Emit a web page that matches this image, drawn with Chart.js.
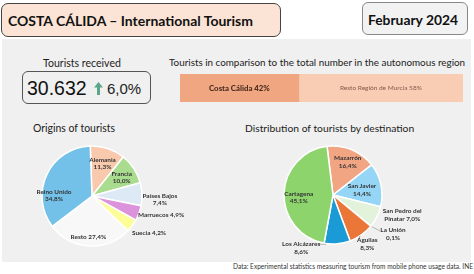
<!DOCTYPE html>
<html>
<head>
<meta charset="utf-8">
<script src="https://cdn.jsdelivr.net/npm/chart.js@4"></script>
<style>
  body { margin: 0; width: 474px; height: 274px; background: #fff; position: relative; overflow: hidden; font-family: Lato, sans-serif; color: #222; }
  .abs { position: absolute; white-space: nowrap; }
  .txt { position: absolute; white-space: nowrap; line-height: 1.2; transform: translateY(-50%); }
  #panel { left: 2px; top: 39px; width: 469px; height: 223px; background: #f0f0f0; }
  #title { left: 1px; top: 3px; width: 278px; height: 32px; background: #fbe4d6; border: 1.5px solid #444; border-radius: 7px; }
  #month { left: 362px; top: 2px; width: 104px; height: 31px; background: #f2f2f2; border: 1.5px solid #888; border-radius: 6px; }
  #kpi { left: 22px; top: 71px; width: 127px; height: 31px; border: 1.3px solid #555; border-radius: 6px; background: #f0f0f0; }
  #kpiNum { left: 4px; top: 5px; font-family: "Liberation Sans", Arial, sans-serif; font-size: 19.5px; color: #111; }
  #kpiArrow { left: 71px; top: 10px; }
  #kpiPct { left: 84px; top: 8px; font-family: "Liberation Sans", Arial, sans-serif; font-size: 15px; color: #222; }
  #barBox { left: 180px; top: 74px; width: 283px; height: 28px; }
  #pie1Box { left: 0px; top: 130px; width: 236px; height: 130px; }
  #pie2Box { left: 238px; top: 130px; width: 236px; height: 130px; }
</style>
</head>
<body>
<div id="panel" class="abs"></div>
<div id="title" class="abs"></div>
<div id="month" class="abs"></div>
<div class="txt fit" data-w="245" style="left:8px;top:20.5px;font-weight:700;font-size:15px;color:#111">COSTA CÁLIDA – International Tourism</div>
<div class="txt fit" data-w="90" style="left:368px;top:19.5px;font-weight:700;font-size:14px;color:#111">February 2024</div>

<div class="txt fit" data-w="78" data-cx="82" style="top:63px;font-size:11px">Tourists received</div>
<div id="kpi" class="abs">
  <div id="kpiNum" class="abs">30.632</div>
  <svg id="kpiArrow" class="abs" width="9" height="13" viewBox="0 0 9 13">
    <polygon points="4.5,0 9,5.5 6,5.5 6,13 3,13 3,5.5 0,5.5" fill="#5ba58b"/>
  </svg>
  <div id="kpiPct" class="abs">6,0%</div>
</div>

<div class="txt fit" data-w="296" style="left:169px;top:63px;font-size:11px">Tourists in comparison to the total number in the autonomous region</div>
<div id="barBox" class="abs"><canvas id="shareChart"></canvas></div>

<div class="txt fit" data-w="82" style="left:33px;top:128px;font-size:11px">Origins of tourists</div>
<div class="txt fit" data-w="169" style="left:245px;top:128px;font-size:11px">Distribution of tourists by destination</div>
<div id="pie1Box" class="abs"><canvas id="originChart"></canvas></div>
<div id="pie2Box" class="abs"><canvas id="destChart"></canvas></div>

<div class="txt fit" data-w="240" style="left:233px;top:267px;font-size:6.5px;color:#333">Data: Experimental statistics measuring tourism from mobile phone usage data. INE</div>

<script>
// share of tourists in the region
const shareLabels = ['Costa Cálida', 'Resto Región de Murcia'];
const shareValues = [42, 58];

// origins of tourists (%)
const originLabels = ['Alemania', 'Francia', 'Países Bajos', 'Marruecos', 'Suecia', 'Resto', 'Reino Unido'];
const originValues = [11.3, 10.0, 7.4, 4.9, 4.2, 27.4, 34.8];

// destinations (%)
const destLabels = ['Mazarrón', 'San Javier', 'San Pedro del Pinatar', 'La Unión', 'Águilas', 'Los Alcázares', 'Cartagena'];
const destValues = [16.4, 14.4, 7.0, 0.1, 8.3, 8.6, 45.1];

const pct = v => v.toFixed(1).replace('.', ',') + '%';

// size text blocks to the widths seen in the picture
function fitTexts() {
    document.querySelectorAll('.fit').forEach(el => {
        const w = +el.dataset.w;
        let size = parseFloat(getComputedStyle(el).fontSize);
        for (let i = 0; i < 4; i++) {
            size *= w / el.getBoundingClientRect().width;
            el.style.fontSize = size + 'px';
        }
        if (el.dataset.cx) el.style.left = (+el.dataset.cx - w / 2) + 'px';
    });
}
fitTexts();
if (document.fonts) document.fonts.ready.then(fitTexts);

// bar: stacked horizontal
new Chart(document.getElementById('shareChart'), {
    type: 'bar',
    data: {
        labels: [''],
        datasets: [
            { label: shareLabels[0], data: [shareValues[0]], backgroundColor: '#f1a682' },
            { label: shareLabels[1], data: [shareValues[1]], backgroundColor: '#f8cdb3' }
        ]
    },
    options: {
        indexAxis: 'y',
        responsive: true,
        maintainAspectRatio: false,
        animation: false,
        events: [],
        barPercentage: 1,
        categoryPercentage: 1,
        layout: { padding: 0 },
        scales: {
            x: { stacked: true, min: 0, max: 100, display: false },
            y: { stacked: true, display: false }
        },
        plugins: { legend: { display: false }, tooltip: { enabled: false } }
    },
    plugins: [{
        id: 'barText',
        afterDatasetsDraw(chart) {
            const ctx = chart.ctx;
            const styles = [
                { font: '900 7.8px Lato', color: '#4a2e20' },
                { font: '6.5px Lato', color: '#85594a' }
            ];
            chart.data.datasets.forEach((ds, i) => {
                const el = chart.getDatasetMeta(i).data[0];
                ctx.save();
                ctx.font = styles[i].font;
                ctx.fillStyle = styles[i].color;
                ctx.textAlign = 'center';
                ctx.textBaseline = 'middle';
                ctx.fillText(ds.label + ' ' + ds.data[0] + '%', (el.x + el.base) / 2, el.y);
                ctx.restore();
            });
        }
    }]
});

// label placement: angle (deg, clockwise from top) and distance in radii
const pieText = {
    id: 'pieText',
    afterDatasetsDraw(chart, args, opts) {
        const ctx = chart.ctx;
        const meta = chart.getDatasetMeta(0);
        meta.data.forEach((arc, i) => {
            const spot = opts.spots[i];
            const a = spot.a * Math.PI / 180;
            const px = arc.x + spot.r * arc.outerRadius * Math.sin(a);
            const py = arc.y - spot.r * arc.outerRadius * Math.cos(a);
            ctx.save();
            if (spot.lead) {
                const la = spot.lead.a * Math.PI / 180;
                ctx.strokeStyle = '#9a9a9a';
                ctx.lineWidth = 0.7;
                ctx.beginPath();
                ctx.moveTo(arc.x + (arc.outerRadius + 1) * Math.sin(la), arc.y - (arc.outerRadius + 1) * Math.cos(la));
                ctx.lineTo(px + spot.lead.dx, py + spot.lead.dy);
                ctx.stroke();
            }
            ctx.font = 'bold 6.4px Lato';
            ctx.fillStyle = '#333333';
            ctx.textAlign = 'center';
            ctx.textBaseline = 'middle';
            const lines = spot.lines(chart.data.labels[i], chart.data.datasets[0].data[i]);
            lines.forEach((t, k) => ctx.fillText(t, px, py + (k - (lines.length - 1) / 2) * 7.5));
            ctx.restore();
        });
    }
};

const two = (l, v) => [l, pct(v)];
const one = (l, v) => [l + ' ' + pct(v)];

function pieOptions(rotation, radius, padding, spots) {
    return {
        responsive: true,
        maintainAspectRatio: false,
        animation: false,
        events: [],
        rotation: rotation,
        radius: radius,
        layout: { padding: padding },
        plugins: {
            legend: { display: false },
            tooltip: { enabled: false },
            pieText: { spots: spots }
        }
    };
}

new Chart(document.getElementById('originChart'), {
    type: 'pie',
    data: {
        labels: originLabels,
        datasets: [{
            data: originValues,
            backgroundColor: ['#f8c9ad', '#a9dc8f', '#dde9f5', '#dc93dc', '#fdfd98', '#f8f8f8', '#73c1e8'],
            borderColor: '#ffffff',
            borderWidth: 1.5
        }]
    },
    options: pieOptions(-2, 50, { left: 42, right: 94, top: 16, bottom: 14 }, [
        { a: 18, r: 0.68, lines: two },
        { a: 58, r: 0.70, lines: two },
        { a: 93, r: 1.36, lines: two },
        { a: 105, r: 1.43, lines: one },
        { a: 123, r: 1.36, lines: one },
        { a: 185, r: 0.83, lines: one },
        { a: 271, r: 0.76, lines: two }
    ]),
    plugins: [pieText]
});

new Chart(document.getElementById('destChart'), {
    type: 'pie',
    data: {
        labels: destLabels,
        datasets: [{
            data: destValues,
            backgroundColor: ['#f1a583', '#95d5f6', '#e3f2da', '#7fb0de', '#ea7738', '#1b9bd6', '#8dd46d'],
            borderColor: '#ffffff',
            borderWidth: 1.5
        }]
    },
    options: pieOptions(-7, 49, { left: 46, right: 92, top: 16, bottom: 16 }, [
        { a: 24, r: 0.74, lines: two },
        { a: 80, r: 0.60, lines: two },
        { a: 106, r: 1.47, lines: (l, v) => ['San Pedro del', 'Pinatar ' + pct(v)] },
        { a: 123, r: 1.46, lines: two, lead: { a: 129.3, dx: -13, dy: -3 } },
        { a: 145, r: 1.22, lines: two },
        { a: 211, r: 1.26, lines: two, lead: { a: 188, dx: 17, dy: -4 } },
        { a: 266, r: 0.70, lines: two }
    ]),
    plugins: [pieText]
});
</script>
</body>
</html>
